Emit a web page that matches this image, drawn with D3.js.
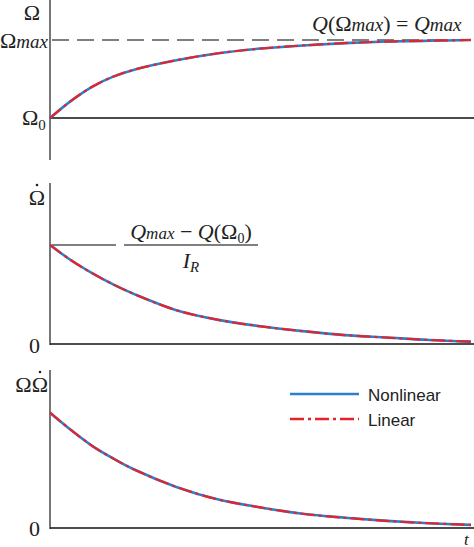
<!DOCTYPE html><html><head><meta charset="utf-8"><script src="https://cdn.jsdelivr.net/npm/d3@7"></script>
<style>body{margin:0;background:#fff} text.s{font-family:"Liberation Serif","Times New Roman","DejaVu Serif",serif}</style></head><body><svg id="c" width="474" height="547"></svg>
<script>
const tFrac = [0,0.05,0.1,0.15,0.2,0.3,0.4,0.5,0.6,0.7,0.8,0.9,1.0];
const omega = [0,0.22,0.40,0.53,0.62,0.74,0.83,0.89,0.93,0.96,0.98,0.99,1.0];
const omegaDot = [0.615,0.52,0.44,0.37,0.31,0.21,0.15,0.11,0.08,0.055,0.04,0.025,0.015];
const omegaOmegaDot = [0.73,0.62,0.52,0.44,0.37,0.26,0.18,0.13,0.09,0.065,0.045,0.03,0.02];
const seriesNames = ["Nonlinear","Linear"];

const svg = d3.select("#c");
const x = d3.scaleLinear().domain([0,1]).range([50,471]);
const axisCol = "#555", blue = "#2a7fd0", red = "#e3242b";

function curve(vals, y){
  const line = d3.line().x((d,i)=>x(tFrac[i])).y(d=>y(d)).curve(d3.curveCatmullRom.alpha(0.5));
  svg.append("path").attr("d",line(vals)).attr("fill","none").attr("stroke",blue).attr("stroke-width",2.6);
  svg.append("path").attr("d",line(vals)).attr("fill","none").attr("stroke",red).attr("stroke-width",2.2).attr("stroke-dasharray","14,4,3,4");
}
function vline(y1,y2){svg.append("line").attr("x1",50).attr("x2",50).attr("y1",y1).attr("y2",y2).attr("stroke",axisCol).attr("stroke-width",1.6);}
function txt(s,xp,yp,opts={}){
  const t=svg.append("text").attr("x",xp).attr("y",yp)
   .attr("font-size",opts.size||22).attr("text-anchor",opts.anchor||"start").attr("fill","#222");
  if(opts.sans) t.attr("font-family","'Liberation Sans',Arial,sans-serif"); else t.attr("class","s");
  t.html(s); return t;
}
function dot(xp,yp){svg.append("circle").attr("cx",xp).attr("cy",yp).attr("r",1.3).attr("fill","#222");}

// Panel 1
const y1 = d3.scaleLinear().domain([0,1]).range([118,40]);
vline(0,160);
svg.append("line").attr("x1",50).attr("x2",474).attr("y1",y1(0)).attr("y2",y1(0)).attr("stroke","#111").attr("stroke-width",1.6);
svg.append("line").attr("x1",52).attr("x2",474).attr("y1",y1(1)).attr("y2",y1(1)).attr("stroke","#555").attr("stroke-width",1.6).attr("stroke-dasharray","17,8");
curve(omega,y1);
txt("Ω",40,20,{anchor:"end"});
txt('Ω<tspan font-style="italic" font-size="19">max</tspan>',0,48);
txt('Ω<tspan font-size="15" dy="5">0</tspan>',22,125);
txt('<tspan font-style="italic">Q</tspan>(Ω<tspan font-style="italic" font-size="19">max</tspan>) = <tspan font-style="italic">Q</tspan><tspan font-style="italic" font-size="19">max</tspan>',312,31,{size:22});

// Panel 2
const y2 = d3.scaleLinear().domain([0,1]).range([344,183]);
vline(183,345);
svg.append("line").attr("x1",50).attr("x2",474).attr("y1",y2(0)).attr("y2",y2(0)).attr("stroke","#111").attr("stroke-width",1.6);
svg.append("line").attr("x1",52).attr("x2",116).attr("y1",y2(omegaDot[0])).attr("y2",y2(omegaDot[0])).attr("stroke",axisCol).attr("stroke-width",1.3);
svg.append("line").attr("x1",124).attr("x2",258).attr("y1",y2(omegaDot[0])).attr("y2",y2(omegaDot[0])).attr("stroke",axisCol).attr("stroke-width",1.3);
txt('<tspan font-style="italic">Q</tspan><tspan font-style="italic" font-size="17">max</tspan> − <tspan font-style="italic">Q</tspan>(Ω<tspan font-size="14" dy="4">0</tspan><tspan dy="-4">)</tspan>',191,239,{anchor:"middle"});
txt('<tspan font-style="italic">I</tspan><tspan font-style="italic" font-size="15" dy="4">R</tspan>',191,268,{anchor:"middle"});
curve(omegaDot,y2);
txt("Ω",45,205,{anchor:"end"}); dot(37,185);
txt("0",40,353,{anchor:"end"});

// Panel 3
const y3 = d3.scaleLinear().domain([0,1]).range([528,370]);
vline(370,529);
svg.append("line").attr("x1",50).attr("x2",474).attr("y1",y3(0)).attr("y2",y3(0)).attr("stroke","#111").attr("stroke-width",1.6);
curve(omegaOmegaDot,y3);
txt("ΩΩ",48,392,{anchor:"end"}); dot(40,372);
txt("0",40,536,{anchor:"end"});
txt('<tspan font-style="italic">t</tspan>',464,545,{size:17});

// Legend
const lg = svg.append("g");
seriesNames.forEach((n,i)=>{
  const yy = 394 + i*25;
  lg.append("line").attr("x1",290).attr("x2",359).attr("y1",yy).attr("y2",yy)
    .attr("stroke",i?red:blue).attr("stroke-width",2.4).attr("stroke-dasharray",i?"14,4,3,4":null);
  txt(n,368,yy+7,{sans:true,size:17});
});
</script></body></html>
